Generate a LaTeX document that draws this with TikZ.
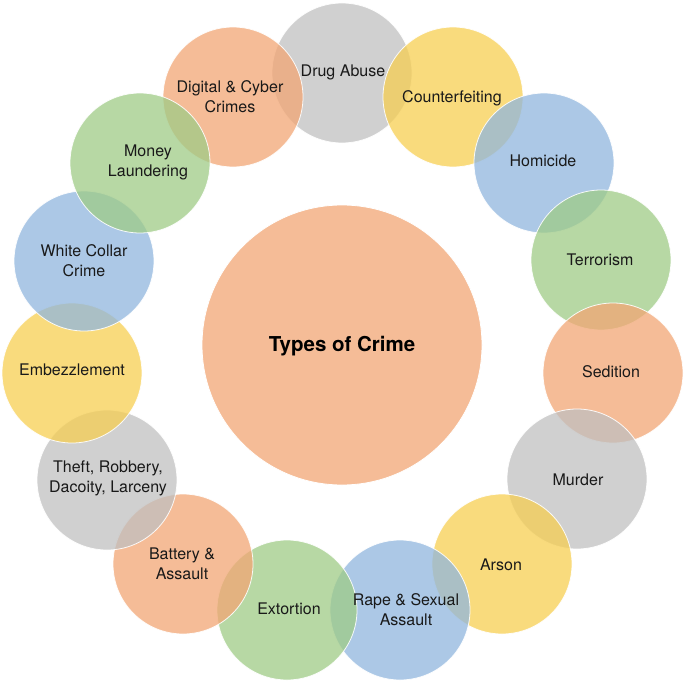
\documentclass[tikz,border=0pt]{standalone}
\usepackage{fontspec}
\setmainfont{TeX Gyre Heros}
\definecolor{corange}{RGB}{242,166,116}
\definecolor{cgrey}{RGB}{192,192,192}
\definecolor{cyellow}{RGB}{247,207,82}
\definecolor{cblue}{RGB}{144,182,222}
\definecolor{cgreen}{RGB}{159,203,134}
\tikzset{
  crime/.style={circle, minimum size=140pt, inner sep=0pt, draw=white, line width=0.8pt, fill opacity=0.75, draw opacity=0.9},
  hub/.style={circle, minimum size=280pt, inner sep=0pt, draw=white, line width=0.8pt, fill opacity=0.75, fill=corange},
  lbl/.style={align=center, font=\fontsize{16}{20}\selectfont, text=black!90, inner sep=0pt},
  hublbl/.style={font=\fontsize{20.5}{24}\selectfont\bfseries, text=black, inner sep=0pt}
}
\begin{document}
\begin{tikzpicture}[x=1pt,y=-1pt]
\useasboundingbox (0,0) rectangle (685,682);
% circles
\node[hub] (hub) at (342,345) {};
\node[crime, fill=cgrey]   (c1)  at (342,73)  {};
\node[crime, fill=corange] (c15) at (233,97)  {};
\node[crime, fill=cyellow] (c2)  at (453,97)  {};
\node[crime, fill=cblue]   (c3)  at (544,163) {};
\node[crime, fill=cgreen]  (c4)  at (601,260) {};
\node[crime, fill=corange] (c5)  at (613,373) {};
\node[crime, fill=cgrey]   (c6)  at (577,479) {};
\node[crime, fill=cyellow] (c7)  at (502,564) {};
\node[crime, fill=cblue]   (c8)  at (400,610) {};
\node[crime, fill=cgreen]  (c9)  at (287,610) {};
\node[crime, fill=corange] (c10) at (183,564) {};
\node[crime, fill=cgrey]   (c11) at (107,480) {};
\node[crime, fill=cyellow] (c12) at (72,373)  {};
\node[crime, fill=cblue]   (c13) at (84,261)  {};
\node[crime, fill=cgreen]  (c14) at (140,163) {};
% labels
\node[hublbl] (thub) at (342,346) {Types of Crime};
\node[lbl] (t1)  at (343,72)  {Drug Abuse};
\node[lbl] (t15) at (230,97)  {Digital \& Cyber\\Crimes};
\node[lbl] (t2)  at (452,98)  {Counterfeiting};
\node[lbl] (t3)  at (543,161) {Homicide};
\node[lbl] (t4)  at (600,260) {Terrorism};
\node[lbl] (t5)  at (611,372) {Sedition};
\node[lbl] (t6)  at (578,480) {Murder};
\node[lbl] (t7)  at (501,565) {Arson};
\node[lbl] (t8)  at (406,610) {Rape \& Sexual\\Assault};
\node[lbl] (t9)  at (289,609) {Extortion};
\node[lbl] (t10) at (182,564) {Battery \&\\Assault};
\node[lbl] (t11) at (108,478) {Theft, Robbery,\\Dacoity, Larceny};
\node[lbl] (t12) at (72,370)  {Embezzlement};
\node[lbl] (t13) at (84,261)  {White Collar\\Crime};
\node[lbl] (t14) at (148,162) {Money\\Laundering};
\end{tikzpicture}
\end{document}
